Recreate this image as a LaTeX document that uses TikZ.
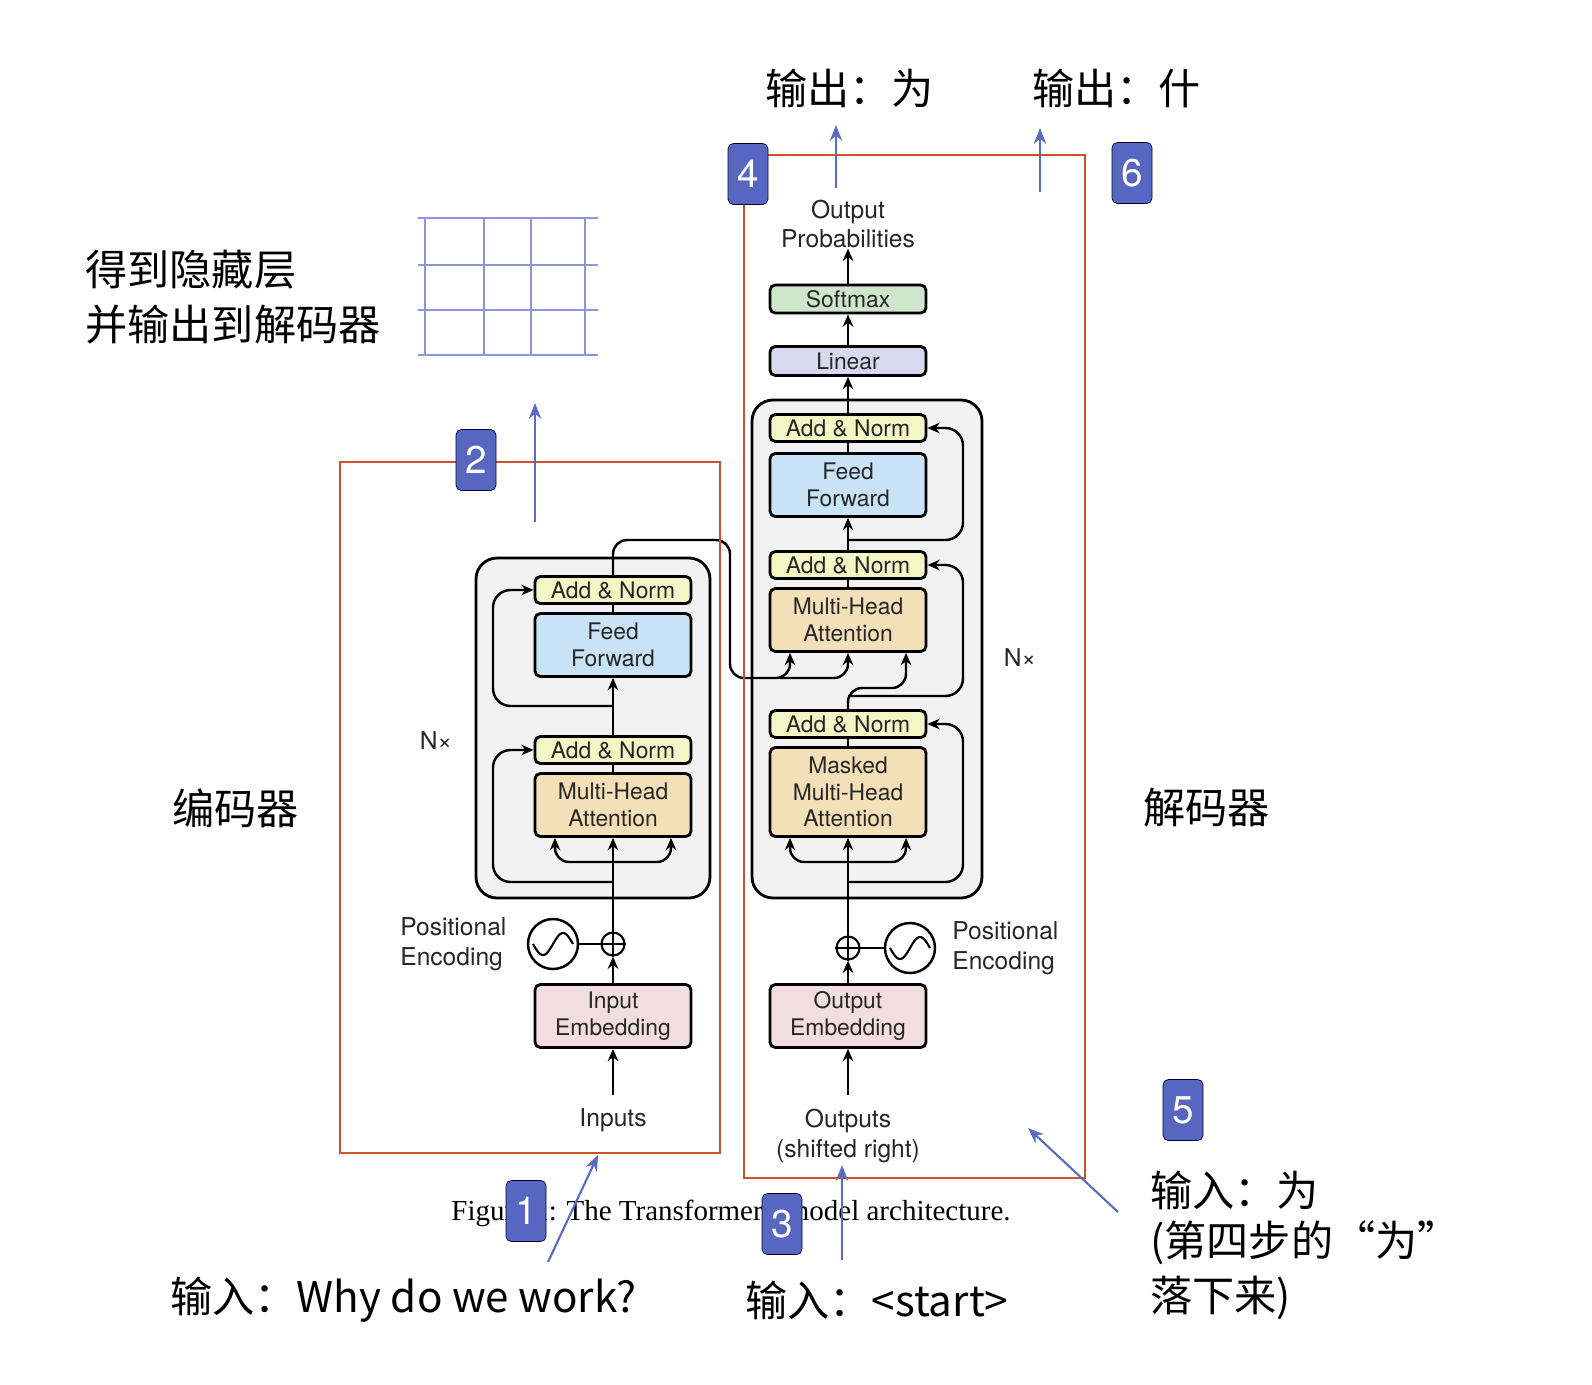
\documentclass[tikz,border=0pt]{standalone}
\usepackage{fontspec}
\setmainfont{TeX Gyre Heros}
\newfontfamily\cjk{Noto Sans CJK SC}
\newfontfamily\capfont{Liberation Serif}
\usetikzlibrary{arrows.meta,calc}
\definecolor{redb}{HTML}{D0502E}
\definecolor{bl}{HTML}{5A6BC4}
\definecolor{badge}{HTML}{5766C0}
\definecolor{yel}{HTML}{F4F6C6}
\definecolor{ffb}{HTML}{C8E3F5}
\definecolor{tan}{HTML}{F3E0B8}
\definecolor{pink}{HTML}{F2DEDE}
\definecolor{lav}{HTML}{D8D8F0}
\definecolor{grn}{HTML}{CFE6CC}
\definecolor{gbox}{HTML}{F2F2F2}
\definecolor{grid}{HTML}{8C96D8}
\begin{document}
\begin{tikzpicture}[x=0.02cm,y=-0.02cm,
  blk/.style={draw=black,line width=1.6pt,rounded corners=3pt,minimum width=3.12cm,align=center,font=\fontsize{13}{15}\selectfont,inner sep=0pt,text=black!85},
  an/.style={blk,fill=yel,minimum height=0.54cm},
  tall/.style={blk,minimum height=1.26cm},
  arr/.style={line width=1.4pt,-{Stealth[length=7pt,width=6pt]}},
  ln/.style={line width=1.4pt},
  barr/.style={bl,line width=1.2pt,-{Stealth[length=9pt,width=7pt]}},
  badgest/.style={draw=black!80!blue,fill=badge,rounded corners=3pt,text=white,minimum width=0.8cm,minimum height=1.22cm,inner sep=0pt,font=\fontsize{22}{24}\selectfont},
  cj/.style={font=\cjk\fontsize{24}{28}\selectfont,anchor=west,inner sep=0pt},
  lbl/.style={font=\fontsize{14}{17}\selectfont,align=center,inner sep=0pt,text=black!85}]
\useasboundingbox (0,0) rectangle (1592,1384);
% grid
\foreach \x in {425,484,531,585}{\draw[grid,line width=0.6pt] (\x,218) -- (\x,355);}
\foreach \y in {218,265,310,355}{\draw[grid,line width=0.6pt] (418,\y) -- (598,\y);}
\node[cj] (t1) at (85,270) {得到隐藏层};
\node[cj] (t2) at (85,325) {并输出到解码器};
\node[cj] (o1) at (765,88) {输出：为};
\node[cj] (o2) at (1032,88) {输出：什};
\node[cj] (enc) at (172,808) {编码器};
\node[cj] (dec) at (1143,808) {解码器};
\node[cj] (in1) at (170,1300) {输入：Why do we work?};
\node[cj] (in3) at (745,1300) {输入：<start>};
\node[cj] (in5a) at (1150,1190) {输入：为};
\node[cj] (in5b) at (1150,1243) {(第四步的“为”};
\node[cj] (in5c) at (1150,1298) {落下来)};
% gray boxes
\draw[line width=1.6pt,fill=gbox,rounded corners=12pt] (476,558) rectangle (710,898);
\draw[line width=1.6pt,fill=gbox,rounded corners=12pt] (752,400) rectangle (982,898);
% encoder
\node[an] (ean2) at (613,590) {Add \& Norm};
\node[tall,fill=ffb] (eff) at (613,645) {Feed\\Forward};
\node[an] (ean1) at (613,750) {Add \& Norm};
\node[tall,fill=tan] (emha) at (613,805) {Multi-Head\\Attention};
\node[tall,fill=pink] (ie) at (613,1016) {Input\\Embedding};
\node[draw,line width=1.2pt,circle,minimum size=0.46cm,inner sep=0pt] (ep) at (613,944) {};
\draw[line width=1.2pt] (ep.north)--(ep.south) (ep.west)--(ep.east);
\node[draw,line width=1.4pt,circle,minimum size=1cm,inner sep=0pt] (es) at (553,944) {};
\draw[line width=1.2pt] plot[domain=-20:20,samples=40,smooth] ({553+\x},{944-11*sin(9*\x)});
\draw[ln] (es.east) -- (ep.west);
\node[lbl,align=left,anchor=west] (epe) at (400,944) {Positional\\Encoding};
\node[lbl] (inputs) at (613,1120) {Inputs};
\coordinate (iin) at (613,1095);
\draw[arr] (iin) -- (ie.south);
\draw[arr] (ie.north) -- (ep.south);
\draw[arr] (ep.north) -- (emha.south);
\draw[ln] (emha.north) -- (ean1.south);
\draw[arr] (ean1.north) -- (eff.south);
\draw[ln] (eff.north) -- (ean2.south);
\draw[arr,rounded corners=8pt] (613,862) -| ($(emha.south)+(-58,0)$);
\draw[arr,rounded corners=8pt] (613,862) -| ($(emha.south)+(58,0)$);
\draw[arr,rounded corners=10pt] (613,882) -| (493,750) -- (ean1.west);
\draw[arr,rounded corners=10pt] (613,706) -| (493,590) -- (ean2.west);
\node[lbl] (enx) at (436,741) {N×};
% decoder
\node[lbl] (prob) at (848,224) {Output\\Probabilities};
\node[blk,fill=grn,minimum height=0.56cm] (soft) at (848,299) {Softmax};
\node[blk,fill=lav,minimum height=0.58cm] (lin) at (848,361) {Linear};
\node[an] (dan3) at (848,428) {Add \& Norm};
\node[tall,fill=ffb] (dff) at (848,485) {Feed\\Forward};
\node[an] (dan2) at (848,565) {Add \& Norm};
\node[tall,fill=tan] (dmha) at (848,620) {Multi-Head\\Attention};
\node[an] (dan1) at (848,724) {Add \& Norm};
\node[blk,fill=tan,minimum height=1.78cm] (dmm) at (848,792) {Masked\\Multi-Head\\Attention};
\node[tall,fill=pink] (oe) at (848,1016) {Output\\Embedding};
\node[draw,line width=1.2pt,circle,minimum size=0.46cm,inner sep=0pt] (dp) at (848,948) {};
\draw[line width=1.2pt] (dp.north)--(dp.south) (dp.west)--(dp.east);
\node[draw,line width=1.4pt,circle,minimum size=1cm,inner sep=0pt] (ds) at (910,948) {};
\draw[line width=1.2pt] plot[domain=-20:20,samples=40,smooth] ({910+\x},{948-11*sin(9*\x)});
\draw[ln] (dp.east) -- (ds.west);
\node[lbl,align=left,anchor=west] (dpe) at (952,948) {Positional\\Encoding};
\node[lbl] (outs) at (848,1136) {Outputs\\(shifted right)};
\coordinate (oin) at (848,1095);
\node[lbl] (dnx) at (1020,658) {N×};
\draw[arr] (oin) -- (oe.south);
\draw[arr] (oe.north) -- (dp.south);
\draw[arr] (dp.north) -- (dmm.south);
\draw[ln] (dmm.north) -- (dan1.south);
\draw[arr,rounded corners=8pt] (848,862) -| ($(dmm.south)+(-58,0)$);
\draw[arr,rounded corners=8pt] (848,862) -| ($(dmm.south)+(58,0)$);
\draw[arr,rounded corners=8pt] (dan1.north) -- (848,688) -| ($(dmha.south)+(58,0)$);
\draw[arr,rounded corners=8pt] (ean2.north) -- (613,540) -| (730,678) -| ($(dmha.south)+(-58,0)$);
\draw[arr,rounded corners=8pt] (780,678) -| (dmha.south);
\draw[ln] (dmha.north) -- (dan2.south);
\draw[arr] (dan2.north) -- (dff.south);
\draw[ln] (dff.north) -- (dan3.south);
\draw[arr] (dan3.north) -- (lin.south);
\draw[arr] (lin.north) -- (soft.south);
\draw[arr] (soft.north) -- (prob.south);
\draw[arr,rounded corners=10pt] (848,882) -| (963,724) -- (dan1.east);
\draw[arr,rounded corners=10pt] (848,696) -| (963,565) -- (dan2.east);
\draw[arr,rounded corners=10pt] (848,540) -| (963,428) -- (dan3.east);
% red boxes
\draw[redb,line width=1.5pt] (340,462) rectangle (720,1153);
\draw[redb,line width=1.5pt] (744,155) rectangle (1085,1178);
% caption
\node[font=\capfont\fontsize{16.5}{18}\selectfont,inner sep=0pt] (cap) at (731,1213) {Figure 1: The Transformer - model architecture.};
% blue arrows
\coordinate (a2s) at (535,522); \coordinate (a2e) at (535,403);
\coordinate (a4s) at (836,188); \coordinate (a4e) at (836,125);
\coordinate (a6s) at (1040,192); \coordinate (a6e) at (1040,128);
\coordinate (a5s) at (1118,1212); \coordinate (a5e) at (1028,1128);
\coordinate (a1s) at (548,1262); \coordinate (a1e) at (598,1155);
\coordinate (a3s) at (842,1260); \coordinate (a3e) at (842,1165);
\foreach \n in {2,4,6,5,1,3}{\draw[barr] (a\n s) -- (a\n e);}
% badges
\node[badgest] (b2) at (476,460) {2};
\node[badgest] (b4) at (748,174) {4};
\node[badgest] (b6) at (1132,173) {6};
\node[badgest] (b5) at (1183,1110) {5};
\node[badgest] (b1) at (526,1211) {1};
\node[badgest] (b3) at (782,1224) {3};
\end{tikzpicture}
\end{document}
